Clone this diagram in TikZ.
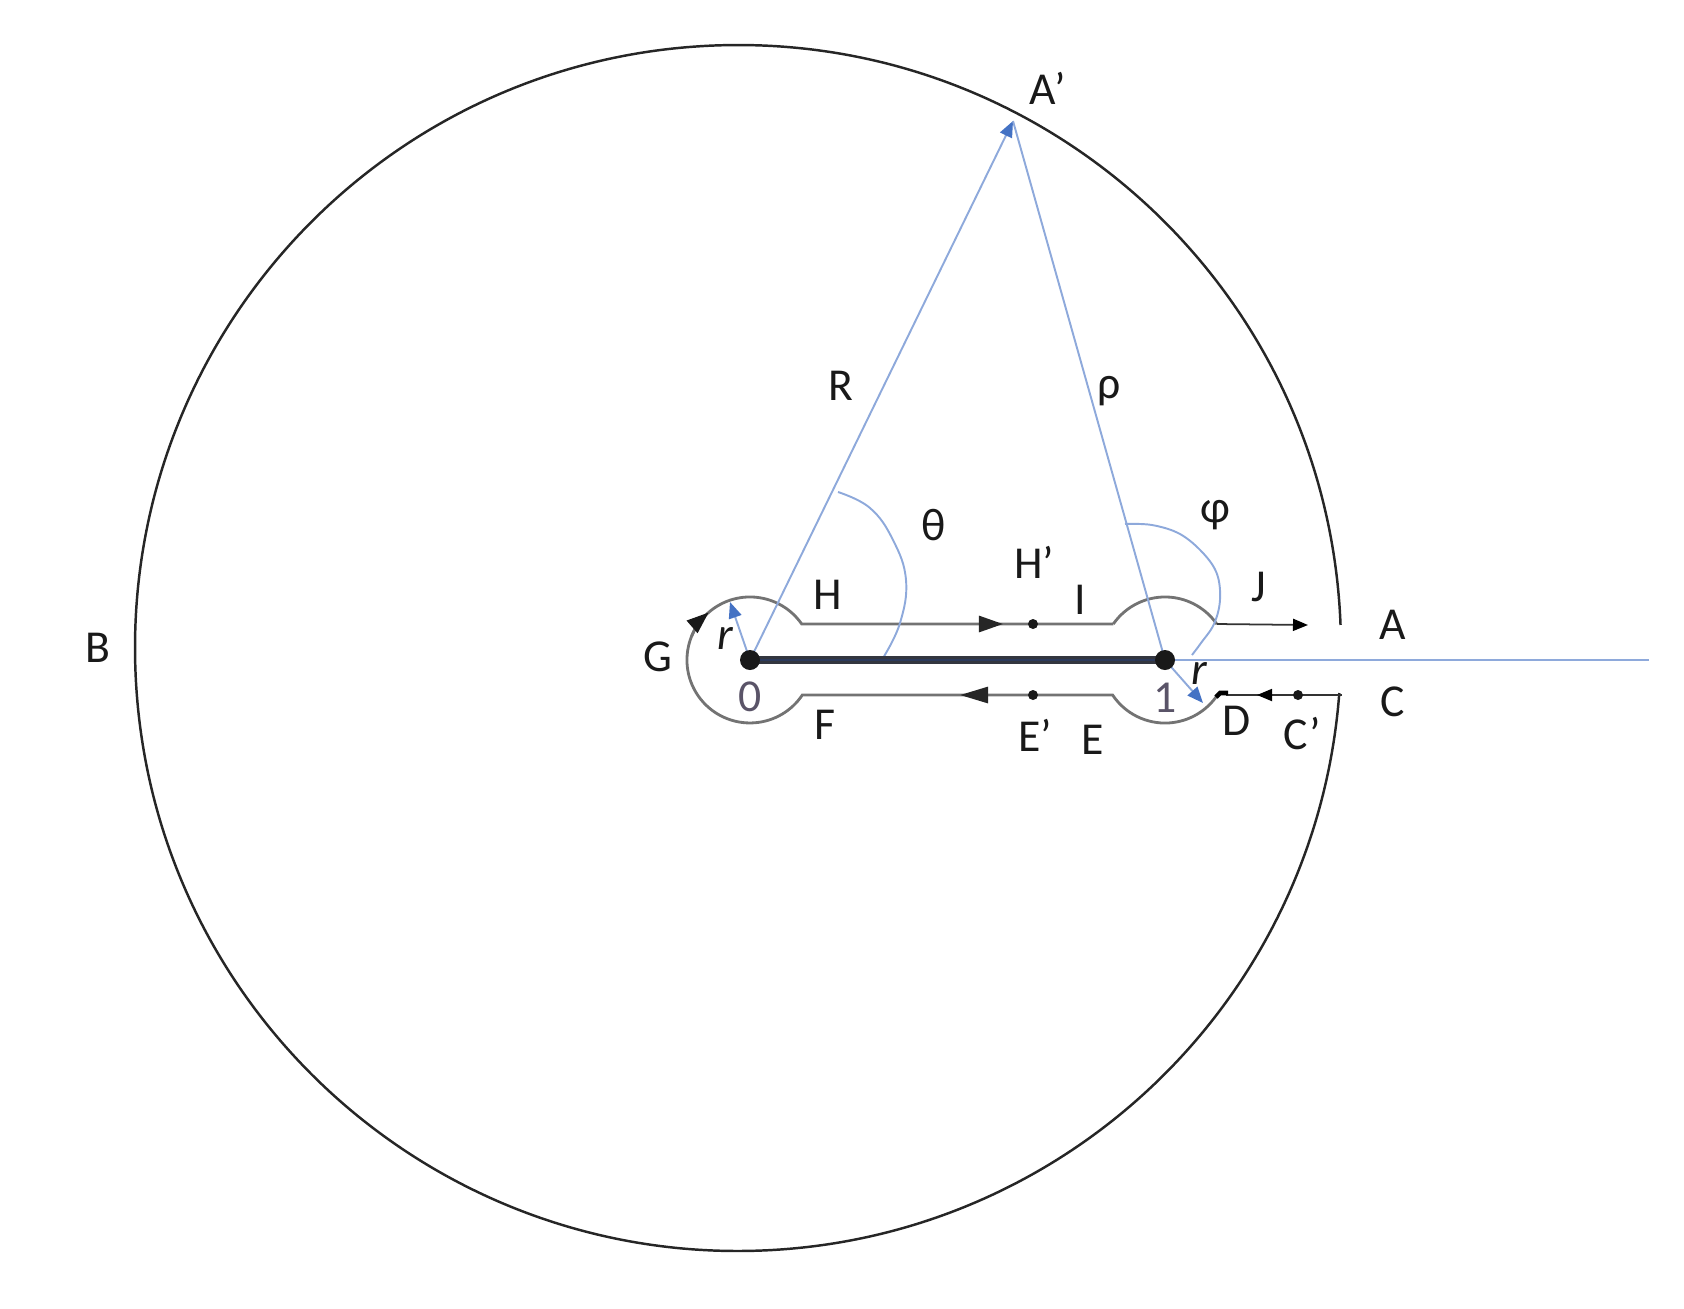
\documentclass[tikz,border=0pt]{standalone}
\usepackage{fontspec}
\setmainfont{Carlito}
\usetikzlibrary{arrows.meta,calc}
\definecolor{bl}{HTML}{8EA9DB}
\definecolor{blt}{HTML}{4472C4}
\definecolor{barc}{HTML}{33363F}
\definecolor{barcore}{HTML}{2C3A5C}
\definecolor{numc}{HTML}{5A5468}
\begin{document}
\begin{tikzpicture}[x=0.01cm,y=0.01cm,
  lab/.style={font=\fontsize{13pt}{15pt}\selectfont, inner sep=0pt, text=black!90},
  numlab/.style={lab, text=numc},
  bigcirc/.style={draw=black!85, line width=0.7pt},
  cont/.style={draw=black!55, line width=0.8pt},
  thinl/.style={draw=black!80, line width=0.5pt},
  bline/.style={draw=bl, line width=0.55pt},
  btip/.style={-{Triangle[length=0.16cm,width=0.13cm,color=blt]}},
  ktip/.style={-{Triangle[length=0.24cm,width=0.16cm,color=black!85]}},
  stip/.style={-{Triangle[length=0.15cm,width=0.12cm,color=black]}},
  dotc/.style={fill=black!90}
]
\useasboundingbox (0,0) rectangle (1684,-1308);

% key points
\coordinate (Cc) at (738,-648);
\coordinate (O) at (750,-660);
\coordinate (One) at (1165,-660);
\coordinate (Ap) at (1013,-121);
\coordinate (Rend) at (1649,-660);
\coordinate (rO) at (730,-602);
\coordinate (rOne) at (1203,-703);

% big circle with gap on the right
\draw[bigcirc] ($(Cc)+(2.19:603)$) arc[start angle=2.19, end angle=355.72, radius=603];

% keyhole contour
\draw[cont] (1113.3,-624) -- (801.7,-624)
  arc[start angle=34.8, end angle=326.3, radius=63] -- (1112.6,-695)
  arc[start angle=213.7, end angle=326.3, radius=63];
\draw[cont] (1113.3,-624) arc[start angle=145.2, end angle=34.8, radius=63];

% contour arrows
\draw[cont, ktip] (975,-624) -- (1003,-624);
\draw[cont, -{Triangle[length=0.28cm,width=0.16cm,color=black!85]}] (995,-695) -- (960,-695);
\draw[cont, -{Triangle[length=0.22cm,width=0.16cm,color=black!90]}] ($(O)+(158:63)$) arc[start angle=158, end angle=131, radius=63];

% J and lower right segments
\draw[thinl, stip] (1216.7,-624) -- (1308,-625);
\draw[thinl] (1342,-695) -- (1226,-695);
\draw[thinl, stip] (1274,-695) -- (1257,-695);
\draw[black, line width=1.3pt] (1216,-697) -- (1220,-693) -- (1228,-693);

% blue construction lines
\draw[bline, btip] (O) -- (Ap);
\draw[bline] (Ap) -- (One);
\draw[bline] (One) -- (Rend);
\draw[bline] plot[smooth, tension=0.7] coordinates {(838,-492) (870,-508) (893,-540) (906,-580) (900,-623) (883,-658)};
\draw[bline] plot[smooth, tension=0.6] coordinates {(1125,-524) (1152,-525) (1180,-534) (1203,-553) (1217,-574) (1220,-600) (1214,-624) (1201,-643) (1192,-655)};

% thick segment [0,1]
\draw[draw=barc, line width=2.3pt] (O) -- (One);
\draw[draw=barcore, line width=0.8pt] (O) -- (One);

% blue r arrows
\draw[bline, btip] (O) -- (rO);
\draw[bline, btip] (One) -- (rOne);

% dots
\fill[dotc] (O) circle[radius=10];
\fill[dotc] (One) circle[radius=10];
\fill[dotc] (1033,-624) circle[radius=5];
\fill[dotc] (1033,-695) circle[radius=5];
\fill[dotc] (1298,-695) circle[radius=5];

% labels
\node[lab] (lAp) at (1048,-88) {A’};
\node[lab] (lR) at (841,-386) {R};
\node[lab] (lrho) at (1109,-391) {ρ};
\node[lab] (ltheta) at (934,-525) {θ};
\node[lab] (lphi) at (1215,-515) {φ};
\node[lab] (lHp) at (1034,-562) {H’};
\node[lab] (lI) at (1080,-600) {I};
\node[lab] (lJ) at (1259,-587) {J};
\node[lab] (lH) at (828,-595) {H};
\node[lab] (lA) at (1393,-625) {A};
\node[lab] (lC) at (1393,-702) {C};
\node[lab] (lB) at (98,-648) {B};
\node[lab] (lG) at (658,-657) {G};
\node[lab] (lr1) at (726,-638) {\textit{r}};
\node[lab] (lr2) at (1200,-673) {\textit{r}};
\node[numlab] (l0) at (750,-697) {0};
\node[numlab] (l1) at (1165,-698) {1};
\node[lab] (lF) at (825,-725) {F};
\node[lab] (lEp) at (1035,-735) {E’};
\node[lab] (lE) at (1093,-740) {E};
\node[lab] (lD) at (1237,-721) {D};
\node[lab] (lCp) at (1302,-734) {C’};
\end{tikzpicture}
\end{document}
